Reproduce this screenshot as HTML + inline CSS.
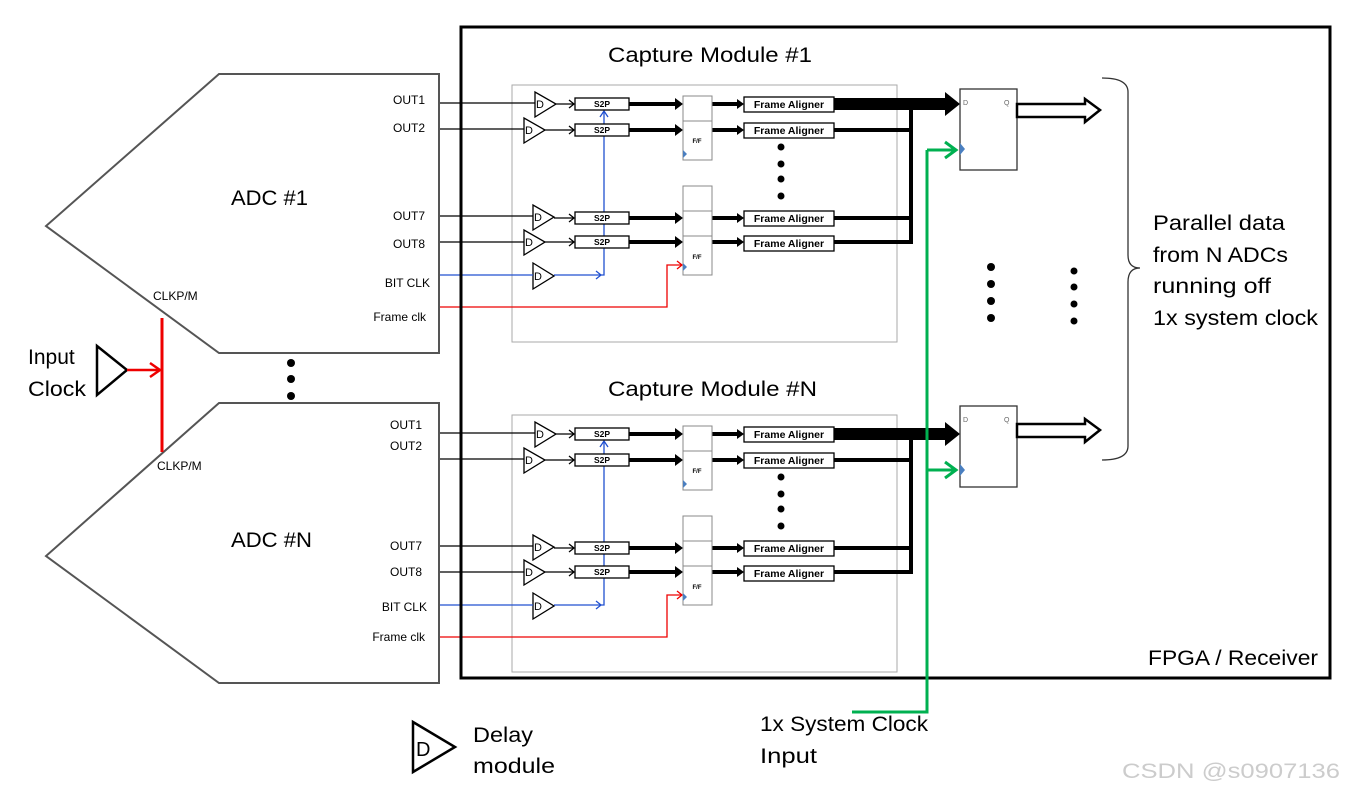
<!DOCTYPE html>
<html><head><meta charset="utf-8"><style>
html,body{margin:0;padding:0;background:#fff;}
svg{display:block;font-family:"Liberation Sans",sans-serif;}
</style></head><body>
<svg width="1345" height="792" viewBox="0 0 1345 792">
<g>
  <rect x="512" y="85" width="385" height="257" fill="none" stroke="#aaa" stroke-width="1"/>
  <g stroke="#000" stroke-width="1.3" fill="none">
    <line x1="440" y1="103" x2="535" y2="103"/><line x1="440" y1="129" x2="524" y2="129"/>
    <line x1="440" y1="216" x2="533" y2="216"/><line x1="440" y1="242" x2="524" y2="242"/>
    <line x1="556" y1="104" x2="574" y2="104"/><line x1="545" y1="130" x2="574" y2="130"/>
    <line x1="554" y1="218" x2="574" y2="218"/><line x1="545" y1="242" x2="574" y2="242"/>
    <polyline points="569,100 574,104 569,108"/><polyline points="569,126 574,130 569,134"/>
    <polyline points="569,214 574,218 569,222"/><polyline points="569,238 574,242 569,246"/>
  </g>
  <g stroke="#000" stroke-width="1.3" fill="#fff">
    <polygon points="535,92 535,117 556,104"/><polygon points="524,118 524,143 545,130"/>
    <polygon points="533,205 533,230 554,217"/><polygon points="524,230 524,255 545,242"/>
    <polygon points="533,263 533,289 554,276"/>
  </g>
  <g font-size="11" fill="#000">
    <text x="536" y="108">D</text><text x="525" y="134">D</text>
    <text x="534" y="221">D</text><text x="525" y="246">D</text><text x="534" y="280">D</text>
  </g>
  <g fill="none" stroke="#2050d0" stroke-width="1.3">
    <line x1="440" y1="275" x2="533" y2="275"/>
    <polyline points="554,275 604,275 604,112"/>
    <polyline points="596,271 601,275 596,279"/>
    <polyline points="600,117 604,111 608,117"/>
  </g>
  <g fill="none" stroke="#e00" stroke-width="1.3">
    <polyline points="440,307 667,307 667,265 682,265"/>
    <polyline points="677,261 682,265 677,269"/>
  </g>
  <g stroke="#000" stroke-width="1.3" fill="#fff">
    <rect x="575" y="98" width="54" height="12"/><rect x="575" y="124" width="54" height="12"/>
    <rect x="575" y="212" width="54" height="12"/><rect x="575" y="236" width="54" height="12"/>
  </g>
  <g font-size="8.5" font-weight="bold" text-anchor="middle">
    <text x="602" y="107">S2P</text><text x="602" y="133">S2P</text>
    <text x="602" y="221">S2P</text><text x="602" y="245">S2P</text>
  </g>
  <g stroke="#000" stroke-width="4">
    <line x1="629" y1="104" x2="676" y2="104"/><line x1="629" y1="130" x2="676" y2="130"/>
    <line x1="629" y1="218" x2="676" y2="218"/><line x1="629" y1="242" x2="676" y2="242"/>
    <line x1="712" y1="104" x2="738" y2="104"/><line x1="712" y1="130" x2="738" y2="130"/>
    <line x1="712" y1="218" x2="738" y2="218"/><line x1="712" y1="242" x2="738" y2="242"/>
  </g>
  <g fill="#000">
    <polygon points="675,98 683,104 675,110"/><polygon points="675,124 683,130 675,136"/>
    <polygon points="675,212 683,218 675,224"/><polygon points="675,236 683,242 675,248"/>
    <polygon points="737,99 744,104 737,109"/><polygon points="737,125 744,130 737,135"/>
    <polygon points="737,213 744,218 737,223"/><polygon points="737,237 744,242 737,247"/>
  </g>
  <g stroke="#888" stroke-width="1" fill="#fff">
    <rect x="683" y="96" width="29" height="25"/><rect x="683" y="121" width="29" height="39"/>
    <rect x="683" y="186" width="29" height="25"/><rect x="683" y="211" width="29" height="25"/><rect x="683" y="236" width="29" height="39"/>
  </g>
  <g font-size="6" font-weight="bold" text-anchor="middle"><text x="697" y="143">F/F</text><text x="697" y="259">F/F</text></g>
  <polygon points="683,150 687,154 683,158" fill="#4a7fc0"/><polygon points="683,263 687,267 683,271" fill="#4a7fc0"/>
  <g stroke="#000" stroke-width="1.3" fill="#fff">
    <rect x="744" y="97" width="90" height="15"/><rect x="744" y="123" width="90" height="15"/>
    <rect x="744" y="211" width="90" height="15"/><rect x="744" y="236" width="90" height="15"/>
  </g>
  <g font-size="10.5" font-weight="bold" text-anchor="middle">
    <text x="789" y="108">Frame Aligner</text><text x="789" y="134">Frame Aligner</text>
    <text x="789" y="222">Frame Aligner</text><text x="789" y="247">Frame Aligner</text>
  </g>
  <g fill="#000"><circle cx="781" cy="147" r="3.5"/><circle cx="781" cy="164" r="3.5"/><circle cx="781" cy="179" r="3.5"/><circle cx="781" cy="196" r="3.5"/></g>
  <g stroke="#000" stroke-width="4" fill="none">
    <line x1="834" y1="130" x2="911" y2="130"/><line x1="834" y1="218" x2="911" y2="218"/>
    <line x1="834" y1="242" x2="911" y2="242"/><line x1="911" y1="104" x2="911" y2="244"/>
  </g>
  <rect x="834" y="98" width="112" height="12" fill="#000"/>
  <polygon points="945,92 960,104 945,116" fill="#000"/>
  <rect x="960" y="89" width="57" height="81" fill="#fff" stroke="#333" stroke-width="1.3"/>
  <text x="963" y="105" font-size="7" fill="#666">D</text><text x="1004" y="105" font-size="7" fill="#666">Q</text>
  <polygon points="960,143 965,149 960,155" fill="#4a7fc0"/>
  <polygon points="1017,104 1085,104 1085,99 1100,110 1085,122 1085,117 1017,117" fill="#fff" stroke="#000" stroke-width="2.5"/>
  <g fill="none" stroke="#00b050" stroke-width="3"><line x1="927" y1="150" x2="956" y2="150"/><polyline points="945,142 956,150 945,158"/></g>
</g>

<g transform="translate(0,330)">
  <rect x="512" y="85" width="385" height="257" fill="none" stroke="#aaa" stroke-width="1"/>
  <g stroke="#000" stroke-width="1.3" fill="none">
    <line x1="440" y1="103" x2="535" y2="103"/><line x1="440" y1="129" x2="524" y2="129"/>
    <line x1="440" y1="216" x2="533" y2="216"/><line x1="440" y1="242" x2="524" y2="242"/>
    <line x1="556" y1="104" x2="574" y2="104"/><line x1="545" y1="130" x2="574" y2="130"/>
    <line x1="554" y1="218" x2="574" y2="218"/><line x1="545" y1="242" x2="574" y2="242"/>
    <polyline points="569,100 574,104 569,108"/><polyline points="569,126 574,130 569,134"/>
    <polyline points="569,214 574,218 569,222"/><polyline points="569,238 574,242 569,246"/>
  </g>
  <g stroke="#000" stroke-width="1.3" fill="#fff">
    <polygon points="535,92 535,117 556,104"/><polygon points="524,118 524,143 545,130"/>
    <polygon points="533,205 533,230 554,217"/><polygon points="524,230 524,255 545,242"/>
    <polygon points="533,263 533,289 554,276"/>
  </g>
  <g font-size="11" fill="#000">
    <text x="536" y="108">D</text><text x="525" y="134">D</text>
    <text x="534" y="221">D</text><text x="525" y="246">D</text><text x="534" y="280">D</text>
  </g>
  <g fill="none" stroke="#2050d0" stroke-width="1.3">
    <line x1="440" y1="275" x2="533" y2="275"/>
    <polyline points="554,275 604,275 604,112"/>
    <polyline points="596,271 601,275 596,279"/>
    <polyline points="600,117 604,111 608,117"/>
  </g>
  <g fill="none" stroke="#e00" stroke-width="1.3">
    <polyline points="440,307 667,307 667,265 682,265"/>
    <polyline points="677,261 682,265 677,269"/>
  </g>
  <g stroke="#000" stroke-width="1.3" fill="#fff">
    <rect x="575" y="98" width="54" height="12"/><rect x="575" y="124" width="54" height="12"/>
    <rect x="575" y="212" width="54" height="12"/><rect x="575" y="236" width="54" height="12"/>
  </g>
  <g font-size="8.5" font-weight="bold" text-anchor="middle">
    <text x="602" y="107">S2P</text><text x="602" y="133">S2P</text>
    <text x="602" y="221">S2P</text><text x="602" y="245">S2P</text>
  </g>
  <g stroke="#000" stroke-width="4">
    <line x1="629" y1="104" x2="676" y2="104"/><line x1="629" y1="130" x2="676" y2="130"/>
    <line x1="629" y1="218" x2="676" y2="218"/><line x1="629" y1="242" x2="676" y2="242"/>
    <line x1="712" y1="104" x2="738" y2="104"/><line x1="712" y1="130" x2="738" y2="130"/>
    <line x1="712" y1="218" x2="738" y2="218"/><line x1="712" y1="242" x2="738" y2="242"/>
  </g>
  <g fill="#000">
    <polygon points="675,98 683,104 675,110"/><polygon points="675,124 683,130 675,136"/>
    <polygon points="675,212 683,218 675,224"/><polygon points="675,236 683,242 675,248"/>
    <polygon points="737,99 744,104 737,109"/><polygon points="737,125 744,130 737,135"/>
    <polygon points="737,213 744,218 737,223"/><polygon points="737,237 744,242 737,247"/>
  </g>
  <g stroke="#888" stroke-width="1" fill="#fff">
    <rect x="683" y="96" width="29" height="25"/><rect x="683" y="121" width="29" height="39"/>
    <rect x="683" y="186" width="29" height="25"/><rect x="683" y="211" width="29" height="25"/><rect x="683" y="236" width="29" height="39"/>
  </g>
  <g font-size="6" font-weight="bold" text-anchor="middle"><text x="697" y="143">F/F</text><text x="697" y="259">F/F</text></g>
  <polygon points="683,150 687,154 683,158" fill="#4a7fc0"/><polygon points="683,263 687,267 683,271" fill="#4a7fc0"/>
  <g stroke="#000" stroke-width="1.3" fill="#fff">
    <rect x="744" y="97" width="90" height="15"/><rect x="744" y="123" width="90" height="15"/>
    <rect x="744" y="211" width="90" height="15"/><rect x="744" y="236" width="90" height="15"/>
  </g>
  <g font-size="10.5" font-weight="bold" text-anchor="middle">
    <text x="789" y="108">Frame Aligner</text><text x="789" y="134">Frame Aligner</text>
    <text x="789" y="222">Frame Aligner</text><text x="789" y="247">Frame Aligner</text>
  </g>
  <g fill="#000"><circle cx="781" cy="147" r="3.5"/><circle cx="781" cy="164" r="3.5"/><circle cx="781" cy="179" r="3.5"/><circle cx="781" cy="196" r="3.5"/></g>
  <g stroke="#000" stroke-width="4" fill="none">
    <line x1="834" y1="130" x2="911" y2="130"/><line x1="834" y1="218" x2="911" y2="218"/>
    <line x1="834" y1="242" x2="911" y2="242"/><line x1="911" y1="104" x2="911" y2="244"/>
  </g>
  <rect x="834" y="98" width="112" height="12" fill="#000"/>
  <polygon points="945,92 960,104 945,116" fill="#000"/>
  <rect x="960" y="76" width="57" height="81" fill="#fff" stroke="#333" stroke-width="1.3"/>
  <text x="963" y="92" font-size="7" fill="#666">D</text><text x="1004" y="92" font-size="7" fill="#666">Q</text>
  <polygon points="960,134 965,140 960,146" fill="#4a7fc0"/>
  <polygon points="1017,94 1085,94 1085,89 1100,100 1085,112 1085,107 1017,107" fill="#fff" stroke="#000" stroke-width="2.5"/>
  <g fill="none" stroke="#00b050" stroke-width="3"><line x1="927" y1="140" x2="956" y2="140"/><polyline points="945,132 956,140 945,148"/></g>
</g>

<rect x="461" y="27" width="869" height="651" fill="none" stroke="#000" stroke-width="3"/>
<polyline points="852,712 927,712 927,150" fill="none" stroke="#00b050" stroke-width="3"/>
<polygon points="219,74 439,74 439,353 219,353 46,226" fill="none" stroke="#555" stroke-width="2"/>
<polygon points="219,403 439,403 439,683 219,683 46,556" fill="none" stroke="#555" stroke-width="2"/>
<g font-size="12" fill="#000" text-anchor="end">
  <text x="425" y="104">OUT1</text><text x="425" y="132">OUT2</text><text x="425" y="220">OUT7</text><text x="425" y="248">OUT8</text>
  <text x="430" y="287">BIT CLK</text><text x="426" y="321">Frame clk</text>
  <text x="422" y="429">OUT1</text><text x="422" y="450">OUT2</text><text x="422" y="550">OUT7</text><text x="422" y="576">OUT8</text>
  <text x="427" y="611">BIT CLK</text><text x="425" y="641">Frame clk</text>
</g>
<g font-size="12"><text x="153" y="300">CLKP/M</text><text x="157" y="470">CLKP/M</text></g>
<g font-size="21"><text x="231" y="205" textLength="77" lengthAdjust="spacingAndGlyphs">ADC #1</text><text x="231" y="547" textLength="81" lengthAdjust="spacingAndGlyphs">ADC #N</text></g>
<g fill="#000"><circle cx="291" cy="363" r="4"/><circle cx="291" cy="379" r="4"/><circle cx="291" cy="396" r="4"/></g>
<g font-size="21">
<text x="28" y="364">Input</text><text x="28" y="396" textLength="58" lengthAdjust="spacingAndGlyphs">Clock</text>
</g>
<polygon points="97,346 127,370 97,395" fill="#fff" stroke="#000" stroke-width="2.5"/>
<g fill="none" stroke="#e00" stroke-width="2.5"><line x1="127" y1="370" x2="160" y2="370"/><polyline points="150,363 160,370 150,377"/></g>
<line x1="162" y1="318" x2="162" y2="452" stroke="#e00" stroke-width="3"/>
<g font-size="21">
<text x="608" y="62" textLength="204" lengthAdjust="spacingAndGlyphs">Capture Module #1</text>
<text x="608" y="396" textLength="209" lengthAdjust="spacingAndGlyphs">Capture Module #N</text>
</g>
<path d="M1102,78 Q1128,78 1128,92 L1128,255 Q1128,268 1140,268 Q1128,268 1128,282 L1128,446 Q1128,460 1102,460" fill="none" stroke="#333" stroke-width="1.3"/>
<g font-size="21">
<text x="1153" y="230" textLength="132" lengthAdjust="spacingAndGlyphs">Parallel data</text>
<text x="1153" y="262" textLength="135" lengthAdjust="spacingAndGlyphs">from N ADCs</text>
<text x="1153" y="293" textLength="118" lengthAdjust="spacingAndGlyphs">running off</text>
<text x="1153" y="325" textLength="165" lengthAdjust="spacingAndGlyphs">1x system clock</text>
</g>
<g fill="#000"><circle cx="991" cy="267" r="4"/><circle cx="991" cy="284" r="4"/><circle cx="991" cy="301" r="4"/><circle cx="991" cy="318" r="4"/>
<circle cx="1074" cy="271" r="3.5"/><circle cx="1074" cy="287" r="3.5"/><circle cx="1074" cy="304" r="3.5"/><circle cx="1074" cy="321" r="3.5"/></g>
<text x="1148" y="665" font-size="21" textLength="170" lengthAdjust="spacingAndGlyphs">FPGA / Receiver</text>
<polygon points="413,722 413,772 455,747" fill="#fff" stroke="#000" stroke-width="2.5"/>
<text x="416" y="756" font-size="20">D</text>
<g font-size="21">
<text x="473" y="742" textLength="60" lengthAdjust="spacingAndGlyphs">Delay</text>
<text x="473" y="773" textLength="82" lengthAdjust="spacingAndGlyphs">module</text>
<text x="760" y="731" textLength="168" lengthAdjust="spacingAndGlyphs">1x System Clock</text>
<text x="760" y="763" textLength="57" lengthAdjust="spacingAndGlyphs">Input</text>
</g>
<text x="1122" y="778" font-size="21" fill="#ccc" textLength="218" lengthAdjust="spacingAndGlyphs">CSDN @s0907136</text>
</svg>
</body></html>
